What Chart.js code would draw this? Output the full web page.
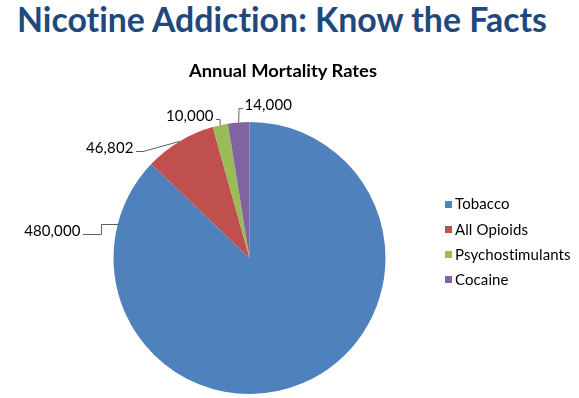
<!DOCTYPE html>
<html>
<head>
<meta charset="utf-8">
<script src="https://cdn.jsdelivr.net/npm/chart.js@4.4.0/dist/chart.umd.min.js"></script>
<style>
  html, body { margin: 0; padding: 0; background: #fff; }
  body { width: 579px; height: 398px; position: relative; overflow: hidden; font-family: Lato, "Open Sans", sans-serif; font-variant-ligatures: none; }
  #slide-title { position: absolute; left: 17px; top: 2px; font-size: 34px; font-weight: 700; color: #1F497D; line-height: 1; white-space: nowrap; transform-origin: 0 0; }
  #chart-title { position: absolute; left: 189px; top: 62.5px; font-size: 16.5px; font-weight: 700; color: #000; line-height: 1; white-space: nowrap; transform-origin: 0 0; }
  #pie { position: absolute; left: 0; top: 0; }
</style>
</head>
<body>
<div id="slide-title">Nicotine Addiction: Know the Facts</div>
<canvas id="pie" width="579" height="398"></canvas>
<div id="chart-title">Annual Mortality Rates</div>
<script>
// data
const categories = ["Tobacco", "All Opioids", "Psychostimulants", "Cocaine"];
const deaths = [480000, 46802, 10000, 14000];
const sliceColors = ["#4F81BD", "#C0504D", "#9BBB59", "#8064A2"];

// where each value label sits, relative to the pie centre
const labelSpots = [
  { dx: -169, dy: -27, align: "right", step: 10 },
  { dx: -116, dy: -110, align: "right", stub: 7 },
  { dx: -36, dy: -142, align: "right", stub: 4 },
  { dx: -5, dy: -153, align: "left", stub: 4 }
];

// stretch a text block to the width it has in the slide
function fitWidth(id, target) {
  const el = document.getElementById(id);
  const w = el.getBoundingClientRect().width;
  el.style.transform = "scaleX(" + (target / w) + ")";
}
fitWidth("slide-title", 530);
fitWidth("chart-title", 188);

const pieLabels = {
  id: "pieLabels",
  afterDatasetsDraw(chart) {
    const ctx = chart.ctx;
    const arcs = chart.getDatasetMeta(0).data;
    ctx.save();
    ctx.font = "15px Lato";
    ctx.letterSpacing = "0.1px";
    ctx.textBaseline = "middle";
    arcs.forEach((arc, i) => {
      const spot = labelSpots[i];
      const cx = arc.x, cy = arc.y, r = arc.outerRadius;
      const mid = (arc.startAngle + arc.endAngle) / 2;
      const tx = cx + spot.dx, ty = cy + spot.dy;
      ctx.fillStyle = "#000";
      ctx.textAlign = spot.align;
      ctx.fillText(deaths[i].toLocaleString("en-US"), tx, ty);

      // leader line
      const dir = spot.align === "right" ? 1 : -1;
      const x0 = Math.round(tx + dir * 2), y0 = Math.round(ty + 3) + 0.5;
      ctx.strokeStyle = "#5f5f5f";
      ctx.lineWidth = 1;
      ctx.beginPath();
      ctx.moveTo(x0, y0);
      if (spot.step) {
        const x1 = x0 + 18 + 0.5;
        const yA = y0 - spot.step;
        const ax = cx - Math.sqrt(r * r - (yA - cy) * (yA - cy));
        ctx.lineTo(x1, y0);
        ctx.lineTo(x1, yA);
        ctx.lineTo(ax + 1, yA);
      } else {
        const x1 = x0 + dir * spot.stub;
        ctx.lineTo(x1, y0);
        ctx.lineTo(cx + r * Math.cos(mid), cy + r * Math.sin(mid));
      }
      ctx.stroke();
    });
    ctx.restore();
  }
};

const sideLegend = {
  id: "sideLegend",
  afterDraw(chart) {
    const ctx = chart.ctx;
    ctx.save();
    ctx.font = "15px Lato";
    ctx.letterSpacing = "0.1px";
    ctx.textBaseline = "middle";
    ctx.textAlign = "left";
    categories.forEach((name, i) => {
      const y = 204 + i * 25.3;
      ctx.fillStyle = sliceColors[i];
      ctx.fillRect(445, Math.round(y - 3.5), 7, 7);
      ctx.fillStyle = "#000";
      ctx.fillText(name, 455, y + 0.5);
    });
    ctx.restore();
  }
};

new Chart(document.getElementById("pie"), {
  type: "pie",
  data: {
    labels: categories,
    datasets: [{
      data: deaths,
      backgroundColor: sliceColors,
      borderWidth: 0,
      hoverOffset: 0,
      offset: 0
    }]
  },
  options: {
    responsive: false,
    animation: false,
    events: [],
    layout: { padding: { top: 122, bottom: 4, left: 113, right: 193 } },
    plugins: {
      legend: { display: false },
      title: { display: false },
      tooltip: { enabled: false }
    }
  },
  plugins: [pieLabels, sideLegend]
});
</script>
</body>
</html>
